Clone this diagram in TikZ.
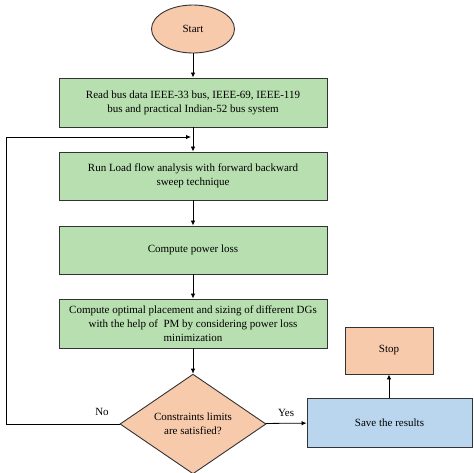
\documentclass[tikz,border=0pt]{standalone}
\usepackage{fontspec}
\setmainfont{Liberation Serif}
\usetikzlibrary{shapes.geometric,arrows.meta}
\definecolor{stepgreen}{RGB}{184,223,176}
\definecolor{termorange}{RGB}{248,202,172}
\definecolor{saveblue}{RGB}{186,214,238}
\tikzset{
    stepbox/.style={draw=black!80,line width=0.9pt,fill=stepgreen,rectangle,minimum width=268pt,align=center,inner sep=2pt},
    arrowline/.style={line width=0.8pt,-{Latex[length=5pt,width=4.5pt]}}
}
\begin{document}
\begin{tikzpicture}[x=1pt,y=-1pt,font=\fontsize{11}{14}\selectfont]
        \useasboundingbox (0,0) rectangle (474,472);
        \node[ellipse,draw=black!80,line width=0.9pt,fill=termorange,minimum width=83pt,minimum height=48pt] (start) at (193,29) {Start};
        \node[stepbox,minimum height=49pt] (read) at (193,102.5) {Read bus data IEEE-33 bus, IEEE-69, IEEE-119\\bus and practical Indian-52 bus system};
        \node[stepbox,minimum height=48pt] (run) at (193,176) {Run Load flow analysis with forward backward\\sweep technique};
        \node[stepbox,minimum height=48pt] (loss) at (193,250) {Compute power loss};
        \node[stepbox,minimum height=49pt] (optim) at (193,323.5) {Compute optimal placement and sizing of different DGs\\with the help of\ \ PM by considering power loss\\minimization};
        \node[diamond,draw=black!80,line width=0.9pt,fill=termorange,minimum width=146pt,minimum height=90pt,inner sep=0pt,align=center] (check) at (193,424) {Constraints limits\\are satisfied?};
        \node[draw=black!80,line width=0.9pt,fill=saveblue,minimum width=165pt,minimum height=49pt] (save) at (389.5,422.5) {Save the results};
        \node[draw=black!80,line width=0.9pt,fill=termorange,minimum width=88pt,minimum height=47pt] (stop) at (389,350.5) {Stop};
        \coordinate (corner) at (6,137);
        \coordinate (merge) at (191,137);
        \draw[arrowline] (start) -- (read);
        \draw[arrowline] (read) -- (run);
        \draw[arrowline] (run) -- (loss);
        \draw[arrowline] (loss) -- (optim);
        \draw[arrowline] (optim) -- (check);
        \draw[arrowline] (check) -- (save) node[pos=0.5,above=3pt] {Yes};
        \draw[arrowline] (save.north -| stop) -- (stop);
        \draw[arrowline] (check.west) -| (corner) -- (merge);
        \node at (102,412) {No};
\end{tikzpicture}
\end{document}
